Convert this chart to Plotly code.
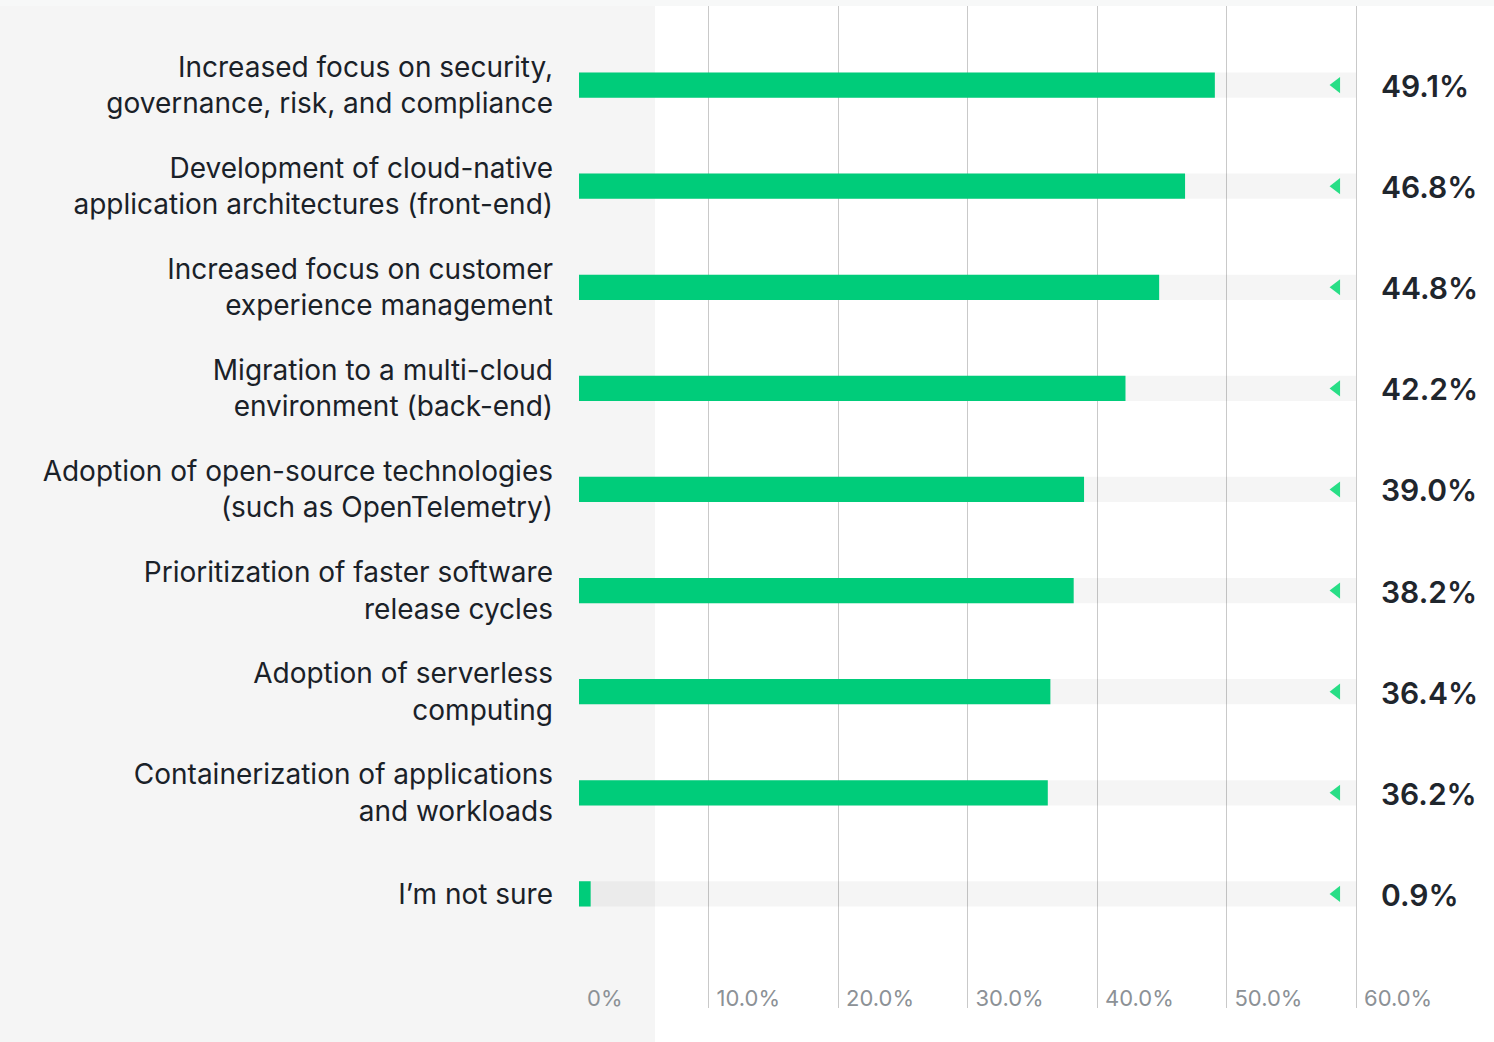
import plotly.graph_objects as go

# data
categories = [
    "Increased focus on security,<br>governance, risk, and compliance",
    "Development of cloud-native<br>application architectures (front-end)",
    "Increased focus on customer<br>experience management",
    "Migration to a multi-cloud<br>environment (back-end)",
    "Adoption of open-source technologies<br>(such as OpenTelemetry)",
    "Prioritization of faster software<br>release cycles",
    "Adoption of serverless<br>computing",
    "Containerization of applications<br>and workloads",
    "I\u2019m not sure",
]
values = [49.1, 46.8, 44.8, 42.2, 39.0, 38.2, 36.4, 36.2, 0.9]
track_max = 60
tick_vals = [0, 10, 20, 30, 40, 50, 60]
tick_text = ["0%", "10.0%", "20.0%", "30.0%", "40.0%", "50.0%", "60.0%"]

rows = list(range(len(categories)))
GREEN = "#00cc7a"
FONT = "Inter, Roboto, sans-serif"

fig = go.Figure()

# gray background track for each row
fig.add_trace(go.Bar(
    x=[track_max] * len(rows), y=rows, orientation="h", width=0.25,
    marker=dict(color="rgba(0,0,0,0.04)", line_width=0),
    hoverinfo="skip", showlegend=False,
))
# value bars
fig.add_trace(go.Bar(
    x=values, y=rows, orientation="h", width=0.25,
    marker=dict(color=GREEN, line_width=0),
    showlegend=False,
))
# little triangle markers at the end of the track
fig.add_trace(go.Scatter(
    x=[58.5] * len(rows), y=rows, mode="markers",
    marker=dict(symbol="triangle-left", size=14, color="#28de86"),
    hoverinfo="skip", showlegend=False,
))

# value labels to the right of the track
for r, v in zip(rows, values):
    fig.add_annotation(
        x=61.75, y=r, text=f"{v:.1f}%", showarrow=False,
        xanchor="left", yanchor="middle", yshift=-1,
        font=dict(family=FONT, size=30, color="#1f262d", weight=600),
    )

plot_w = 1494 - 579
fig.update_layout(
    width=1494, height=1042,
    margin=dict(l=579, r=0, t=6, b=34),
    paper_bgcolor="white", plot_bgcolor="rgba(0,0,0,0)",
    barmode="overlay",
    xaxis=dict(
        range=[0, plot_w / 12.95], tickvals=tick_vals, ticktext=tick_text,
        showgrid=True, gridcolor="#c9c9c9", gridwidth=1,
        zeroline=False, showline=False,
        ticklabelposition="inside right", ticklabelshift=8,
        ticklabelstandoff=-8,
        tickfont=dict(family=FONT, size=22, color="#8c9196"),
        fixedrange=True,
    ),
    yaxis=dict(
        range=[8 + 114 / 101, -79 / 101], tickvals=rows, ticktext=categories,
        showgrid=False, zeroline=False, showline=False,
        ticklabelstandoff=25,
        tickfont=dict(family=FONT, size=28, color="#1a2128"),
        fixedrange=True,
    ),
    shapes=[
        # left gray panel
        dict(type="rect", xref="paper", yref="paper", layer="below",
             x0=-579 / plot_w, x1=76 / plot_w, y0=-34 / 1002, y1=1,
             fillcolor="#f5f5f5", line_width=0),
        # thin top strip
        dict(type="rect", xref="paper", yref="paper", layer="below",
             x0=-579 / plot_w, x1=1, y0=1, y1=1 + 6 / 1002,
             fillcolor="#f7f8f8", line_width=0),
    ],
)

fig.write_html("out.html", config={"displayModeBar": False},
               post_script="document.body.style.margin='0';")
